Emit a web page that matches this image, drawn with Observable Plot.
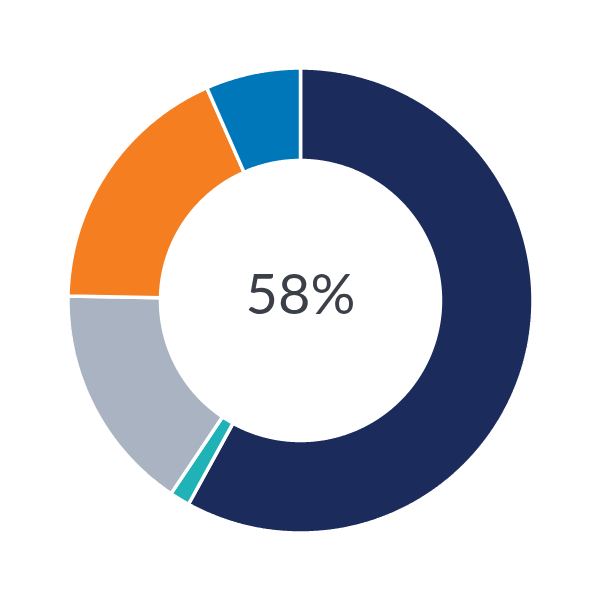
<!DOCTYPE html>
<html><head><meta charset="utf-8">
<script src="https://cdn.jsdelivr.net/npm/d3@7"></script>
<script src="https://cdn.jsdelivr.net/npm/@observablehq/plot@0.6"></script>
<style>html,body{margin:0;padding:0;background:#fff}</style>
</head><body><div id="chart"></div>
<script>
const categories = ["A", "B", "C", "D", "E"];
const values = [58, 1.4, 15.9, 18.1, 6.6];
const colors = ["#1b2b5b", "#1fb3b7", "#a9b3c1", "#f47e20", "#0077b8"];
const centerLabel = "58%";

const outerR = 232.5, innerR = 140;
const total = d3.sum(values);
const pts = [];
let acc = 0;
values.forEach((v, i) => {
  const a0 = acc / total * 2 * Math.PI;
  acc += v;
  const a1 = acc / total * 2 * Math.PI;
  const n = Math.max(4, Math.ceil((a1 - a0) / 0.005));
  const ring = [];
  for (let k = 0; k <= n; k++) { const a = a0 + (a1 - a0) * k / n; ring.push([outerR * Math.sin(a), outerR * Math.cos(a)]); }
  for (let k = n; k >= 0; k--) { const a = a0 + (a1 - a0) * k / n; ring.push([innerR * Math.sin(a), innerR * Math.cos(a)]); }
  ring.push(ring[0]);
  ring.forEach(([x, y]) => pts.push({cat: categories[i], x, y}));
});

const chart = Plot.plot({
  width: 600, height: 600, margin: 0,
  x: {domain: [-300, 300], axis: null},
  y: {domain: [-300, 300], axis: null},
  color: {domain: categories, range: colors},
  marks: [
    Plot.line(pts, {x: "x", y: "y", z: "cat", fill: "cat", stroke: "white", strokeWidth: 3.5, strokeLinejoin: "miter", curve: "linear"}),
    Plot.text([centerLabel], {x: () => 0, y: () => 0, text: d => d, fontSize: 56, fill: "#3a3f48", fontFamily: "Lato", textAnchor: "middle", dy: -4})
  ]
});
document.getElementById("chart").appendChild(chart);
</script></body></html>
